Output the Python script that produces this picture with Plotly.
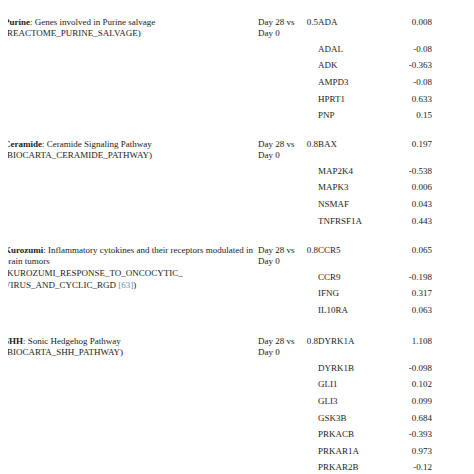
import plotly.graph_objects as go

pathway_bold = ["Purine", "Ceramide", "Kurozumi", "SHH"]
pathway_desc = [
    ": Genes involved in Purine salvage<br>(REACTOME_PURINE_SALVAGE)",
    ": Ceramide Signaling Pathway<br>(BIOCARTA_CERAMIDE_PATHWAY)",
    ": Inflammatory cytokines and their receptors modulated in<br>brain tumors<br>(KUROZUMI_RESPONSE_TO_ONCOCYTIC_<br>VIRUS_AND_CYCLIC_RGD <span style='color:#5b8fc7'>[63]</span>)",
    ": Sonic Hedgehog Pathway<br>(BIOCARTA_SHH_PATHWAY)",
]
comparison = ["Day 28 vs<br>Day 0"] * 4
score = ["0.5", "0.8", "0.8", "0.8"]
last_col = ["0.32", "0.33", "0.33", "0.34"]
genes = [
    ["ADA", "ADAL", "ADK", "AMPD3", "HPRT1", "PNP"],
    ["BAX", "MAP2K4", "MAPK3", "NSMAF", "TNFRSF1A"],
    ["CCR5", "CCR9", "IFNG", "IL10RA"],
    ["DYRK1A", "DYRK1B", "GLI1", "GLI3", "GSK3B", "PRKACB", "PRKAR1A", "PRKAR2B"],
]
values = [
    ["0.008", "-0.08", "-0.363", "-0.08", "0.633", "0.15"],
    ["0.197", "-0.538", "0.006", "0.043", "0.443"],
    ["0.065", "-0.198", "0.317", "0.063"],
    ["1.108", "-0.098", "0.102", "0.099", "0.684", "-0.393", "0.973", "-0.12"],
]

# layout of rows (in pixels)
shift = 9
group_tops = [19 - shift, 141 - shift, 247 - shift, 338 - shift]
first_gap, row_step = 27, 16.6

py, ptxt, gy, gtxt, vtxt = [], [], [], [], []
for k in range(4):
    top = group_tops[k]
    py.append(top)
    ptxt.append("<b>" + pathway_bold[k] + "</b>" + pathway_desc[k])
    for i, (g, v) in enumerate(zip(genes[k], values[k])):
        y = top if i == 0 else top + first_gap + (i - 1) * row_step
        gy.append(y); gtxt.append(g); vtxt.append(v)

font = dict(family="Liberation Serif", size=9, color="#222")
fig = go.Figure()
fig.add_trace(go.Scatter(x=[-4] * 4, y=py, text=ptxt, mode="text",
                         textposition="bottom right", textfont=font))
fig.add_trace(go.Scatter(x=[250] * 4, y=py, text=comparison, mode="text",
                         textposition="bottom right", textfont=font))
fig.add_trace(go.Scatter(x=[310] * 4, y=py, text=score, mode="text",
                         textposition="bottom left", textfont=font))
fig.add_trace(go.Scatter(x=[465] * 4, y=py, text=last_col, mode="text",
                         textposition="bottom right", textfont=font))
fig.add_trace(go.Scatter(x=[310] * len(gy), y=gy, text=gtxt, mode="text",
                         textposition="bottom right", textfont=font))
fig.add_trace(go.Scatter(x=[424] * len(gy), y=gy, text=vtxt, mode="text",
                         textposition="bottom left", textfont=font))

fig.update_layout(
    width=474, height=474, margin=dict(l=0, r=0, t=0, b=0),
    paper_bgcolor="white", plot_bgcolor="white", showlegend=False,
    xaxis=dict(range=[0, 474], visible=False, fixedrange=True),
    yaxis=dict(range=[474, 0], visible=False, fixedrange=True),
)
fig.write_html("out.html")
